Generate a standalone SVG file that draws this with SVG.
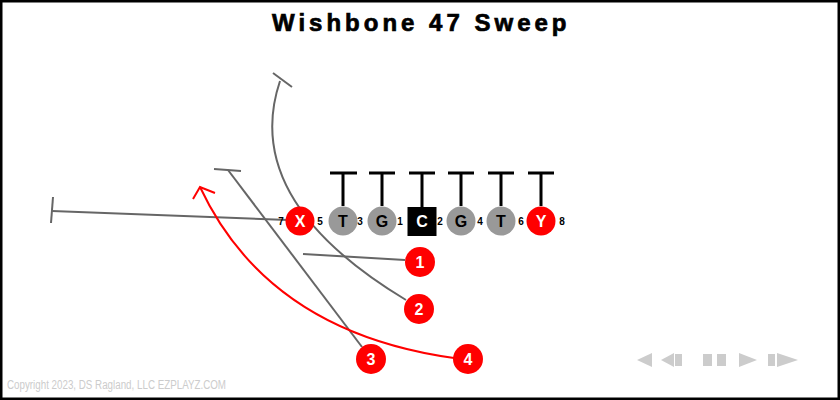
<svg xmlns="http://www.w3.org/2000/svg" width="840" height="400" viewBox="0 0 840 400">
<style>
.title{font-family:"Liberation Sans",Arial,sans-serif;font-weight:bold;font-size:24px;letter-spacing:4px;fill:#000;stroke:#000;stroke-width:0.7}
.lbl{font-family:"Liberation Sans",Arial,sans-serif;font-weight:bold;font-size:16px;text-anchor:middle}
.gap{font-family:"Liberation Sans",Arial,sans-serif;font-weight:bold;font-size:10px;text-anchor:middle;fill:#000}
.red{fill:#f00}
.gray{fill:#999}
.route{fill:none;stroke:#666;stroke-width:2}
.rroute{fill:none;stroke:#f00;stroke-width:2}
.blk{fill:none;stroke:#000;stroke-width:3}
.ctl{fill:#ccc}
</style>
<rect x="0" y="0" width="840" height="400" fill="#fff"/>
<text class="title" x="272" y="31">Wishbone 47 Sweep</text>
<g id="connectors">
  <path class="route" d="M288,220 L52,211"/>
  <path class="route" d="M53,197 L51,223"/>
  <path class="route" d="M406,300 Q240,200 280,81"/>
  <path class="route" d="M273,73 L292,87"/>
  <path class="route" d="M405,260 L303,254"/>
  <path class="route" d="M362,347 L228,170"/>
  <path class="route" d="M214,169 L241,171"/>
  <path class="rroute" d="M454,358 Q268,332 200,187"/>
  <path class="rroute" d="M193,199 L200,187 L215,193"/>
  <path class="blk" d="M343,206 V173 M330,173 H357"/>
  <path class="blk" d="M382,206 V173 M369,173 H395"/>
  <path class="blk" d="M422,207 V173 M409,173 H435"/>
  <path class="blk" d="M461,206 V173 M448,173 H474"/>
  <path class="blk" d="M501,206 V173 M488,173 H514"/>
  <path class="blk" d="M541,206 V173 M528,173 H554"/>
</g>
<g id="X"><circle class="red" cx="300" cy="221" r="14.5"/><text class="lbl" x="300" y="227" fill="#fff">X</text></g>
<g id="LT"><circle class="gray" cx="343" cy="221" r="14.5"/><text class="lbl" x="343" y="227" fill="#000">T</text></g>
<g id="LG"><circle class="gray" cx="382" cy="221" r="14.5"/><text class="lbl" x="382" y="227" fill="#000">G</text></g>
<g id="C"><rect x="407.5" y="207" width="29" height="29" fill="#000"/><text class="lbl" x="422" y="227" fill="#fff">C</text></g>
<g id="RG"><circle class="gray" cx="461" cy="221" r="14.5"/><text class="lbl" x="461" y="227" fill="#000">G</text></g>
<g id="RT"><circle class="gray" cx="501" cy="221" r="14.5"/><text class="lbl" x="501" y="227" fill="#000">T</text></g>
<g id="Y"><circle class="red" cx="541" cy="221" r="14.5"/><text class="lbl" x="541" y="227" fill="#fff">Y</text></g>
<g id="gaps">
  <text class="gap" x="281" y="225">7</text>
  <text class="gap" x="320" y="225">5</text>
  <text class="gap" x="360" y="225">3</text>
  <text class="gap" x="400" y="225">1</text>
  <text class="gap" x="440" y="225">2</text>
  <text class="gap" x="480" y="225">4</text>
  <text class="gap" x="521" y="225">6</text>
  <text class="gap" x="562" y="225">8</text>
</g>
<g id="B1"><circle class="red" cx="420" cy="262" r="15"/><text class="lbl" x="420" y="268" fill="#fff">1</text></g>
<g id="B2"><circle class="red" cx="419" cy="309" r="15"/><text class="lbl" x="419" y="315" fill="#fff">2</text></g>
<g id="B3"><circle class="red" cx="371" cy="359" r="15"/><text class="lbl" x="371" y="365" fill="#fff">3</text></g>
<g id="B4"><circle class="red" cx="468" cy="359" r="15"/><text class="lbl" x="468" y="365" fill="#fff">4</text></g>
<g id="controls">
  <polygon class="ctl" points="637,360 652,353 652,367"/>
  <polygon class="ctl" points="661,360 674,353 674,367"/>
  <rect class="ctl" x="675" y="354" width="7" height="12"/>
  <rect class="ctl" x="703" y="354" width="9" height="12"/>
  <rect class="ctl" x="717" y="354" width="9" height="12"/>
  <polygon class="ctl" points="739,353 757,360 739,367"/>
  <rect class="ctl" x="768" y="354" width="7" height="12"/>
  <polygon class="ctl" points="777,353 798,360 777,367"/>
</g>
<text x="7" y="389" font-family="'Liberation Sans',Arial,sans-serif" font-size="12" fill="#ccc" textLength="219" lengthAdjust="spacingAndGlyphs">Copyright 2023, DS Ragland, LLC EZPLAYZ.COM</text>
<rect x="1" y="1" width="838" height="398" fill="none" stroke="#000" stroke-width="3"/>
</svg>
